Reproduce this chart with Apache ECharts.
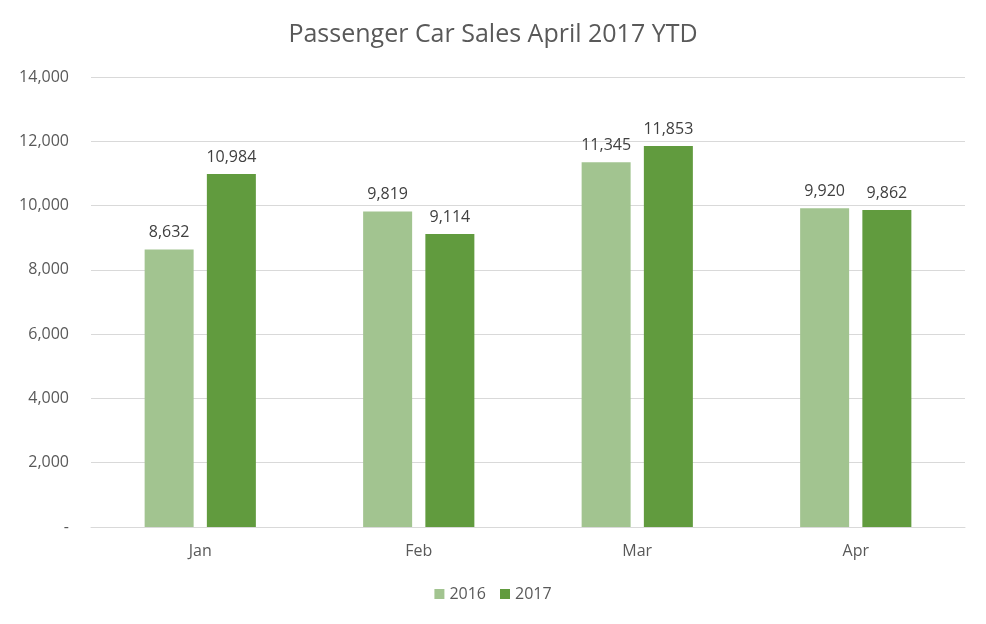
<!DOCTYPE html>
<html>
<head>
<meta charset="utf-8">
<script src="https://cdn.jsdelivr.net/npm/echarts@6/dist/echarts.min.js"></script>
<style>
  html, body { margin: 0; padding: 0; background: #fff; }
  #chart { width: 986px; height: 624px; }
</style>
</head>
<body>
<div id="chart"></div>
<script>
var months = ['Jan', 'Feb', 'Mar', 'Apr'];
var sales2016 = [8632, 9819, 11345, 9920];
var sales2017 = [10984, 9114, 11853, 9862];
var yTicks = [0, 2000, 4000, 6000, 8000, 10000, 12000, 14000];

var font = '"Open Sans", "Liberation Sans", sans-serif';

function fmt(v) {
  return v === 0 ? '-' : v.toLocaleString('en-US');
}

var myChart = echarts.init(document.getElementById('chart'));
myChart.setOption({
  animation: false,
  backgroundColor: '#fff',
  title: {
    text: 'Passenger Car Sales April 2017 YTD',
    left: 'center',
    top: 17,
    textStyle: { fontFamily: font, fontSize: 25, fontWeight: 'normal', color: '#595959' }
  },
  legend: {
    data: ['2016', '2017'],
    top: 581,
    left: 'center',
    itemWidth: 10,
    itemHeight: 10,
    itemGap: 14,
    icon: 'rect',
    textStyle: { fontFamily: font, fontSize: 16, color: '#595959' }
  },
  grid: { // plot area
    left: 91,
    right: 21,
    top: 77,
    bottom: 97
  },
  xAxis: {
    type: 'category',
    data: months,
    axisLine: { lineStyle: { color: '#d9d9d9' } },
    axisTick: { show: false },
    axisLabel: { fontFamily: font, fontSize: 16, color: '#595959', margin: 16 }
  },
  yAxis: {
    type: 'value',
    min: yTicks[0],
    max: yTicks[yTicks.length - 1],
    interval: 2000,
    axisLine: { show: false },
    axisTick: { show: false },
    splitLine: { lineStyle: { color: '#d9d9d9', width: 1 } },
    axisLabel: {
      fontFamily: font, fontSize: 16, color: '#595959', margin: 22,
      formatter: fmt
    }
  },
  series: [
    {
      name: '2016',
      type: 'bar',
      data: sales2016,
      barWidth: 49,
      barGap: '27%',
      itemStyle: { color: '#a2c490' },
      label: {
        show: true, position: 'top', distance: 9,
        fontFamily: font, fontSize: 16, color: '#404040',
        formatter: function (p) { return fmt(p.value); }
      }
    },
    {
      name: '2017',
      type: 'bar',
      data: sales2017,
      barWidth: 49,
      barGap: '27%',
      itemStyle: { color: '#619b3e' },
      label: {
        show: true, position: 'top', distance: 9,
        fontFamily: font, fontSize: 16, color: '#404040',
        formatter: function (p) { return fmt(p.value); }
      }
    }
  ]
});
</script>
</body>
</html>
